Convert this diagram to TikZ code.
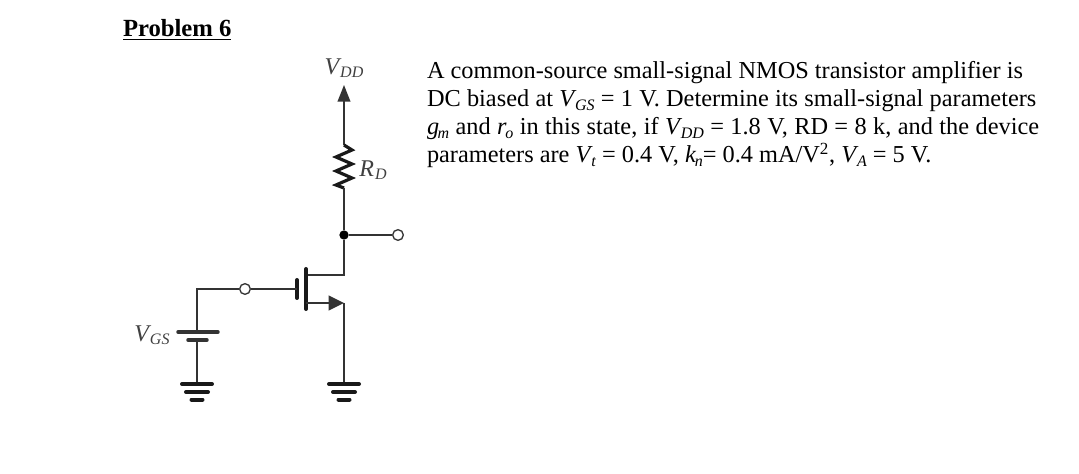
\documentclass[tikz,border=0pt]{standalone}
\usepackage{fontspec}
\setmainfont{Liberation Serif}
\usetikzlibrary{arrows.meta,calc}
\newcommand{\vsub}[2]{\textit{#1}\kern-0.06em\raisebox{-0.3ex}{\fontsize{12}{13}\selectfont\textit{#2}}}
\tikzset{
  wire/.style={line width=1.3pt,color=black!80},
  bar/.style={line width=3pt,color=black!90,line cap=round},
  body/.style={anchor=base west,inner sep=0pt,outer sep=0pt,font=\fontsize{18.25}{20}\selectfont,text=black},
  lab/.style={inner sep=0pt,outer sep=0pt,font=\fontsize{18}{20}\selectfont,text=black!75},
  opencirc/.style={circle,draw=black!80,line width=1pt,fill=white,minimum size=8pt,inner sep=0pt},
  dotc/.style={circle,fill=black,minimum size=7pt,inner sep=0pt},
  tip/.style={-{Triangle[length=12.5pt,width=9.5pt]}},
  tipb/.style={-{Triangle[length=11.5pt,width=11pt]}}
}
\begin{document}
\begin{tikzpicture}[x=0.75pt,y=-0.75pt]
\useasboundingbox (0,0) rectangle (1079,474);
% title and statement
\node[body,font=\fontsize{18.5}{20}\selectfont\bfseries] (title) at (123,37) {\underline{Problem 6}};
\node[body] (l1) at (427,79) {A common-source small-signal NMOS transistor amplifier is};
\node[body] (l2) at (427,107) {\spaceskip=0.258em DC biased at \vsub{V}{GS} = 1 V. Determine its small-signal parameters};
\node[body] (l3) at (427,135) {\spaceskip=0.264em \vsub{g}{m} and \vsub{r}{o} in this state, if \vsub{V}{DD} = 1.8 V, RD = 8 k, and the device};
\node[body] (l4) at (427,163) {parameters are \vsub{V}{t} = 0.4 V, \vsub{k}{n}= 0.4 mA/V\textsuperscript{2}, \vsub{V}{A} = 5 V.};
% junctions and terminals
\node[dotc] (dot) at (344,235) {};
\node[opencirc] (out) at (398,235) {};
\node[opencirc] (in) at (245,289) {};
\coordinate (vdd) at (344,85);
\coordinate (rtop) at (344,145);
\coordinate (rbot) at (344,188);
\coordinate (dr) at (344,275);
\coordinate (chd) at (306,275);
\coordinate (chs) at (306,303);
\coordinate (sr) at (344,303);
\coordinate (gate) at (297,289);
\coordinate (gl) at (197,289);
\coordinate (batt) at (197,332);
\coordinate (battb) at (197,340);
\coordinate (g1) at (197,384);
\coordinate (g2) at (344,384);
% supply and resistor
\draw[wire,tip] (rtop) -- (vdd);
\draw[wire,line width=2.4pt,line join=miter,color=black!90] (rtop) -- ++(8,5) -- ++(-16,7) -- ++(16,7) -- ++(-16,7) -- ++(16,7) -- ++(-16,7) -- (rbot);
\draw[wire] (rbot) -- (dot);
\draw[wire] (dot) -- (out);
\draw[wire] (dot) -- (dr) -- (chd);
% transistor
\draw[bar] (306,269) -- (306,309);
\draw[bar] (gate |- 0,280) -- (gate |- 0,298);
\draw[wire] (gate) -- (in);
\draw[wire] (in) -- (gl) -- (batt);
\draw[wire,tipb] (chs) -- (sr);
\draw[wire] (sr) -- (g2);
% battery
\draw[wire,line width=2.6pt,line cap=round] (178,332) -- (218,332);
\draw[wire,line width=2.6pt,line cap=round] (188,340) -- (207,340);
\draw[wire] (battb) -- (g1);
% grounds
\foreach \c in {g1,g2}{
  \draw[bar] ($(\c)+(-15,0)$) -- ($(\c)+(15,0)$);
  \draw[bar] ($(\c)+(-11,8)$) -- ($(\c)+(11,8)$);
  \draw[bar] ($(\c)+(-5.5,15.5)$) -- ($(\c)+(5.5,15.5)$);
}
% labels
\node[lab] (lvdd) at (344,68) {\vsub{V}{DD}};
\node[lab] (lrd) at (373,170) {\textit{R}\kern0.04em\raisebox{-0.3ex}{\fontsize{12}{13}\selectfont\textit{D}}};
\node[lab] (lvgs) at (152,335) {\vsub{V}{GS}};
\end{tikzpicture}
\end{document}
